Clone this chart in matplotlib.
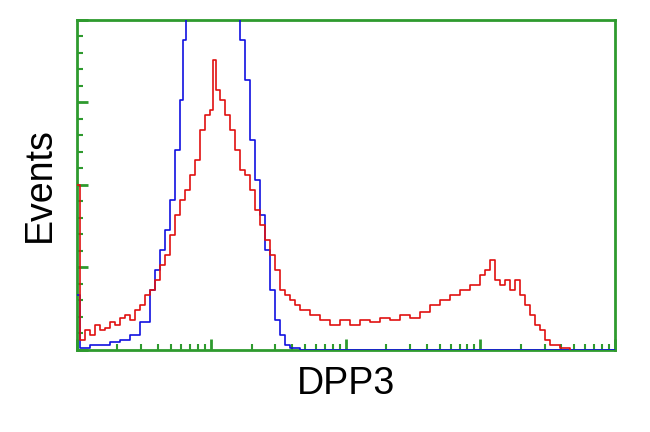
import numpy as np
import matplotlib
matplotlib.use("Agg")
import matplotlib.pyplot as plt

# pixel-read estimates converted: x in decades (0-4), y in % of full scale
red_px = [77,79,80,85,90,95,100,105,110,115,120,125,130,135,140,145,150,155,160,165,170,175,180,185,190,195,200,205,210,213,216,220,225,230,235,240,245,250,255,260,265,270,275,280,285,290,295,300,310,320,330,340,350,360,370,380,390,400,410,420,430,440,450,460,470,480,485,490,495,500,505,510,515,520,525,530,535,540,545,550,560,570]
red_py = [185,185,340,330,335,325,330,328,322,325,318,315,320,310,305,295,290,280,265,255,235,215,200,190,175,160,130,115,110,60,90,100,115,130,150,170,175,190,210,225,240,255,270,290,295,300,305,310,315,320,325,320,325,320,322,318,320,315,318,312,305,300,295,290,285,275,270,260,280,285,280,290,280,295,305,315,325,330,340,345,348,350]
blue_px = [77,79,80,90,100,110,120,130,140,150,155,160,165,170,175,180,183,186,238,240,245,250,255,260,265,270,275,280,285,290,300,615]
blue_py = [295,295,348,345,345,342,340,335,322,290,270,250,230,200,150,100,40,-20,-20,40,80,140,180,215,250,290,320,335,345,348,350,350]

red_x = [(p - 77) / 134.5 for p in red_px]
red_y = [(350 - p) / 3.3 for p in red_py]
blue_x = [(p - 77) / 134.5 for p in blue_px]
blue_y = [(350 - p) / 3.3 for p in blue_py]

plt.rcParams['font.family'] = ['Liberation Sans', 'DejaVu Sans']
green = "#2e9a2e"
fig = plt.figure(figsize=(6.5, 4.32), dpi=100)
ax = fig.add_axes([0.118, 0.19, 0.828, 0.764])
ax.step(blue_x, blue_y, where="post", color="#1010e0", lw=1.2, zorder=3)
ax.step(red_x, red_y, where="post", color="#e01010", lw=1.2, zorder=4)
ax.set_xlim(0, 4)
ax.set_ylim(0, 100)
for s in ax.spines.values():
    s.set_color(green)
    s.set_linewidth(2)
    s.set_zorder(2)
ax.set_xticks([0, 1, 2, 3, 4])
minor = [d + np.log10(k) for d in range(4) for k in range(2, 10)]
ax.set_xticks(minor, minor=True)
ax.set_yticks([0, 25, 50, 75, 100])
ax.set_yticks([v for v in np.arange(0, 100, 5) if v % 25], minor=True)
ax.tick_params(axis="both", which="major", direction="in", length=8, width=2, color=green, labelleft=False, labelbottom=False)
ax.tick_params(axis="both", which="minor", direction="in", length=4, width=1.5, color=green)
ax.set_xlabel("DPP3", fontsize=27, labelpad=8)
ax.set_ylabel("Events", fontsize=27, labelpad=10)
fig.savefig("out.png", dpi=100)
